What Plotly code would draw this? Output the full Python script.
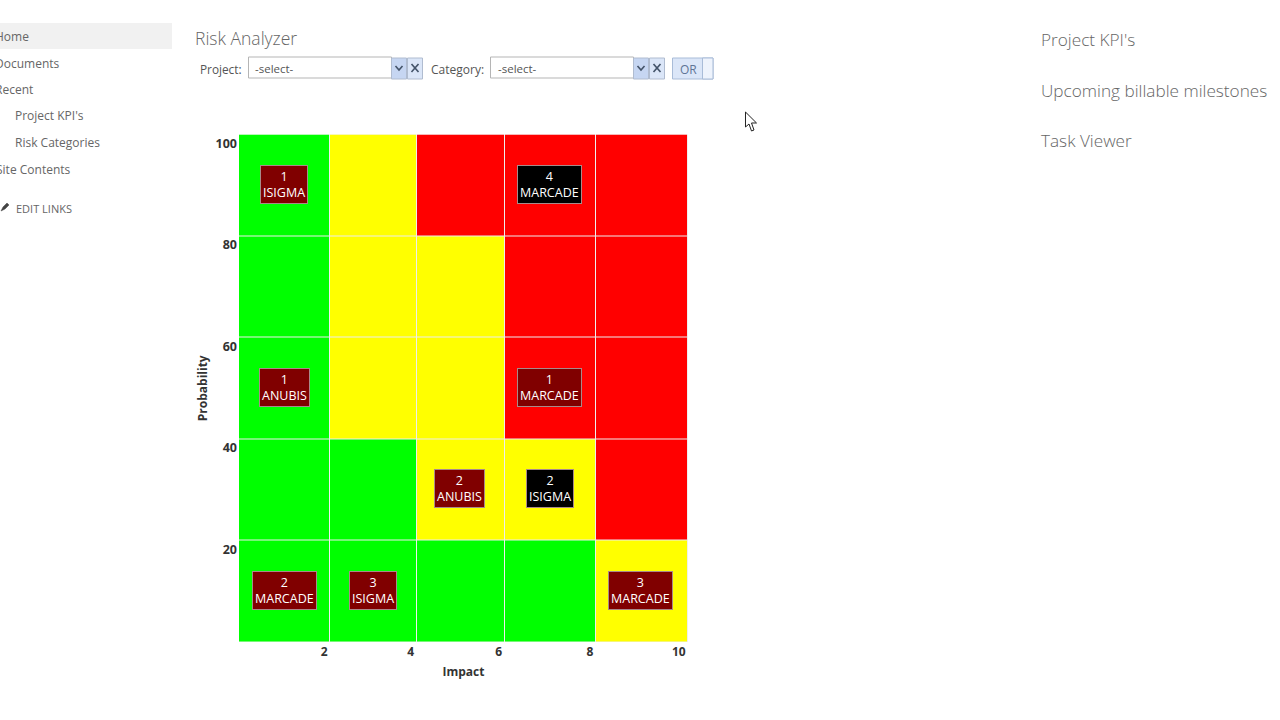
import plotly.graph_objects as go

# risk matrix
impact_edges = [0, 2.03, 3.96, 5.92, 7.95, 10]
prob_edges = [0, 20, 40, 60, 80, 100]
# 0 green, 1 yellow, 2 red, bottom row first
severity = [
    [0, 0, 0, 0, 1],
    [0, 0, 1, 1, 2],
    [0, 1, 1, 2, 2],
    [0, 1, 1, 2, 2],
    [0, 1, 2, 2, 2],
]
x_tick_pos = [2.03, 3.96, 5.92, 7.95, 9.93]
x_tick_text = ["2", "4", "6", "8", "10"]
y_ticks = [20, 40, 60, 80, 100]

# risk boxes
box_impact = [1.01, 6.92, 1.01, 6.92, 4.92, 6.92, 1.01, 2.99, 8.95]
box_prob = [90.2, 90.2, 50.2, 50.2, 30.2, 30.2, 10.2, 10.2, 10.2]
box_count = [1, 4, 1, 1, 2, 2, 2, 3, 3]
box_project = ["ISIGMA", "MARCADE", "ANUBIS", "MARCADE", "ANUBIS", "ISIGMA", "MARCADE", "ISIGMA", "MARCADE"]
box_color = ["#800000", "#000000", "#800000", "#800000", "#800000", "#000000", "#800000", "#800000", "#800000"]

nav_items = ["Home", "Documents", "Recent", "Project KPI's", "Risk Categories", "Site Contents", "EDIT LINKS"]
nav_x = [-7, -7, -7, 13, 13, -6, 14]
nav_y = [36, 63, 89, 116, 143, 169, 208.6]
side_links = ["Project KPI's", "Upcoming billable milestones", "Task Viewer"]
side_y = [39, 90, 141]

W, H = 1280, 720
FONT = "Open Sans"


def px(x):
    return x / W


def py(y):
    return 1 - y / H


def label(text, x, y, size, color, anchor="left", weight=400):
    return dict(text=text, x=px(x), y=py(y), xref="paper", yref="paper", xanchor=anchor, yanchor="middle",
                showarrow=False, font=dict(family=FONT, size=size, color=color, weight=weight))


def rect(x0, y0, x1, y1, fill, line="rgba(0,0,0,0)"):
    return dict(type="rect", xref="paper", yref="paper", x0=px(x0), x1=px(x1), y0=py(y0), y1=py(y1),
                fillcolor=fill, line=dict(color=line, width=1))


def outline(points, fill=None, color="#44546a", width=1.6):
    d = "M" + " L".join(f"{px(a):.5f},{py(b):.5f}" for a, b in points)
    if fill:
        d += " Z"
    return dict(type="path", xref="paper", yref="paper", path=d, fillcolor=fill,
                line=dict(color=color, width=width))


fig = go.Figure()
fig.add_trace(go.Heatmap(
    x=impact_edges, y=prob_edges, z=severity, xgap=1, ygap=1, zmin=0, zmax=2, showscale=False, hoverinfo="skip",
    colorscale=[[0, "#00ff00"], [0.5, "#ffff00"], [1, "#ff0000"]],
))

annotations = []
for x, y, n, name, color in zip(box_impact, box_prob, box_count, box_project, box_color):
    annotations.append(dict(
        x=x, y=y, xref="x", yref="y", text=f"{n}<br>{name}", showarrow=False,
        bgcolor=color, bordercolor="#a98a8a", borderwidth=1, borderpad=2,
        font=dict(family=FONT, size=12.5, color="white"),
    ))

for text, x, y in zip(nav_items, nav_x, nav_y):
    size = 11 if text == "EDIT LINKS" else 12
    annotations.append(label(text, x, y, size, "#666666"))
annotations.append(label("Risk Analyzer", 193, 38, 17.5, "#666666", weight=300))
annotations.append(label("Project:", 198, 69, 11.8, "#555555"))
annotations.append(label("Category:", 429, 69, 12, "#555555"))
annotations.append(label("-select-", 252.5, 68, 11.5, "#555555"))
annotations.append(label("-select-", 495.5, 68, 11.5, "#555555"))
annotations.append(label("OR", 678, 69, 12, "#5f7596"))
for text, y in zip(side_links, side_y):
    annotations.append(label(text, 1039, y, 17.2, "#666666", weight=300))

shapes = [rect(-2, 23, 172, 49, "#f1f1f1")]
for left in (248.5, 490.5):
    shapes.append(rect(left, 57, left + 143, 78, "white", "#b5b5b5"))
    shapes.append(rect(left + 143, 58, left + 158, 79, "#c6d6f2", "#b0bcd0"))
    shapes.append(rect(left + 159, 58, left + 174, 79, "#dbe6f8", "#b0bcd0"))
    shapes.append(outline([(left + 147, 66), (left + 150.5, 70), (left + 154, 66)]))
    shapes.append(outline([(left + 163, 64), (left + 170, 72)]))
    shapes.append(outline([(left + 163, 72), (left + 170, 64)]))
shapes.append(rect(672.5, 58, 713, 79, "#dbe6f8", "#a9bcd8"))
shapes.append(rect(702.5, 58, 713, 79, "#eef3fc", "#a9bcd8"))
# pencil
shapes.append(outline([(1, 211), (3, 207), (7, 203), (9, 205), (5, 209)], fill="#444444", color="#444444", width=0.5))
# mouse pointer
shapes.append(outline([(745.5, 112), (745.5, 127), (749, 124), (751.5, 131), (754, 130), (751.5, 123), (756.5, 123)],
                      fill="white", color="#222222", width=1))

fig.update_layout(
    width=W, height=H, margin=dict(l=0, r=0, t=0, b=0), paper_bgcolor="white", plot_bgcolor="#eeeeee",
    annotations=annotations, shapes=shapes, showlegend=False,
    font=dict(family=FONT, color="#333333"),
    xaxis=dict(
        domain=[px(239), px(688)], range=[0, 10], tickvals=x_tick_pos, ticktext=x_tick_text,
        showgrid=False, zeroline=False, ticks="",
        ticklabelshift=-6, ticklabelstandoff=1, tickfont=dict(size=12, color="#333333", weight="bold"),
        title=dict(text="Impact", standoff=8, font=dict(size=12, color="#333333", weight="bold")),
    ),
    yaxis=dict(
        domain=[py(642), py(134.5)], range=[0, 100], tickvals=y_ticks, showgrid=False, zeroline=False, ticks="",
        ticklabelshift=9, ticklabelstandoff=1, tickfont=dict(size=12.5, color="#333333", weight="bold"),
        title=dict(text="Probability", standoff=5, font=dict(size=12, color="#333333", weight="bold")),
    ),
)

fig.write_html("out.html", config=dict(displayModeBar=False),
               post_script="document.body.style.margin='0';document.body.style.overflow='hidden';")
